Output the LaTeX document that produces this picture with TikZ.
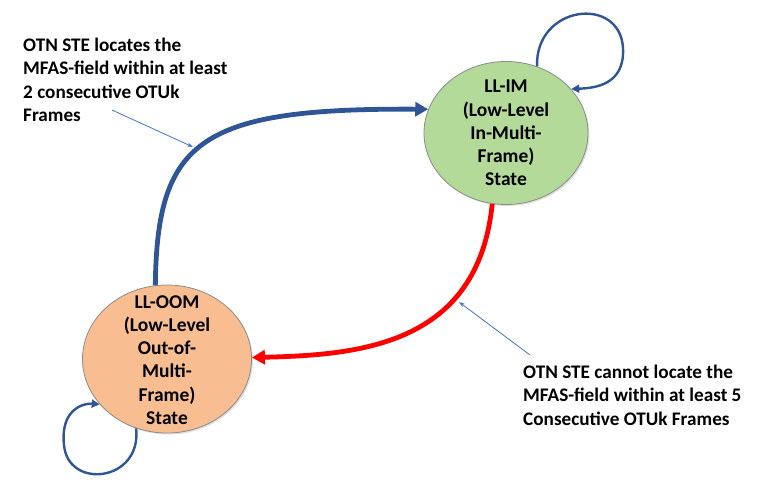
\documentclass[tikz,border=0pt]{standalone}
\usepackage{fontspec}
\setmainfont{Carlito}
\usetikzlibrary{shapes.geometric,arrows.meta,shadows}
\definecolor{mainblue}{HTML}{2F5597}
\definecolor{noteblue}{HTML}{4472C4}
\definecolor{stgreen}{HTML}{B3DA98}
\definecolor{storange}{HTML}{F8BE91}
\tikzset{
  statebox/.style={ellipse, inner sep=0pt, draw=black!45, line width=0.8pt,
     drop shadow={shadow xshift=1.5pt, shadow yshift=-1.5pt, opacity=0.25}},
  statetext/.style={align=center, inner sep=0pt, font=\bfseries\fontsize{19.5}{23.2}\selectfont},
  notetext/.style={align=left, inner sep=0pt, anchor=west, font=\bfseries\fontsize{19.2}{23.5}\selectfont},
  bigarrow/.style={line width=4.8pt, -{Triangle[length=13pt,width=14pt]}},
  looparrow/.style={mainblue, line width=2.4pt, -{Triangle[length=8pt,width=8pt]}},
  notearrow/.style={noteblue, line width=0.8pt, -{Stealth[length=6pt,width=4pt]}}
}
\begin{document}
\begin{tikzpicture}[x=1pt,y=-1pt]
\useasboundingbox (0,0) rectangle (768,488);
% states
\node[statebox, fill=stgreen, minimum width=164pt, minimum height=143pt] (im) at (506,133) {};
\node[statebox, fill=storange, minimum width=169pt, minimum height=148pt] (oom) at (167,359) {};
\node[statetext] (imt) at (im.center) {LL-IM\\(Low-Level\\In-Multi-\\Frame)\\State};
\node[statetext] (oomt) at ([yshift=-1pt]oom.center) {LL-OOM\\(Low-Level\\Out-of-\\Multi-\\Frame)\\State};
% transitions
\draw[bigarrow, mainblue] (oom.99) .. controls (157,140) and (200,108) .. (im.163);
\draw[bigarrow, red] (im.259) .. controls (478,345) and (360,355) .. (oom.1);
% self loops
\draw[looparrow] (im.65) .. controls (535,5) and (620,-5) .. (623,48)
   .. controls (625,85) and (595,88) .. (im.34);
\draw[looparrow] (oom.246) .. controls (142,482) and (68,490) .. (64,445)
   .. controls (60,408) and (85,403) .. (oom.214);
% notes
\node[notetext] (n1) at (23,80) {OTN STE locates the\\MFAS-field within at least\\2 consecutive OTUk\\Frames};
\node[notetext] (n2) at (523,395) {OTN STE cannot locate the\\MFAS-field within at least 5\\Consecutive OTUk Frames};
\coordinate (n1s) at (112,110);
\coordinate (n1e) at (193,147);
\coordinate (n2s) at (530,355);
\coordinate (n2e) at (459,302);
\draw[notearrow] (n1s) -- (n1e);
\draw[notearrow] (n2s) -- (n2e);
\end{tikzpicture}
\end{document}
